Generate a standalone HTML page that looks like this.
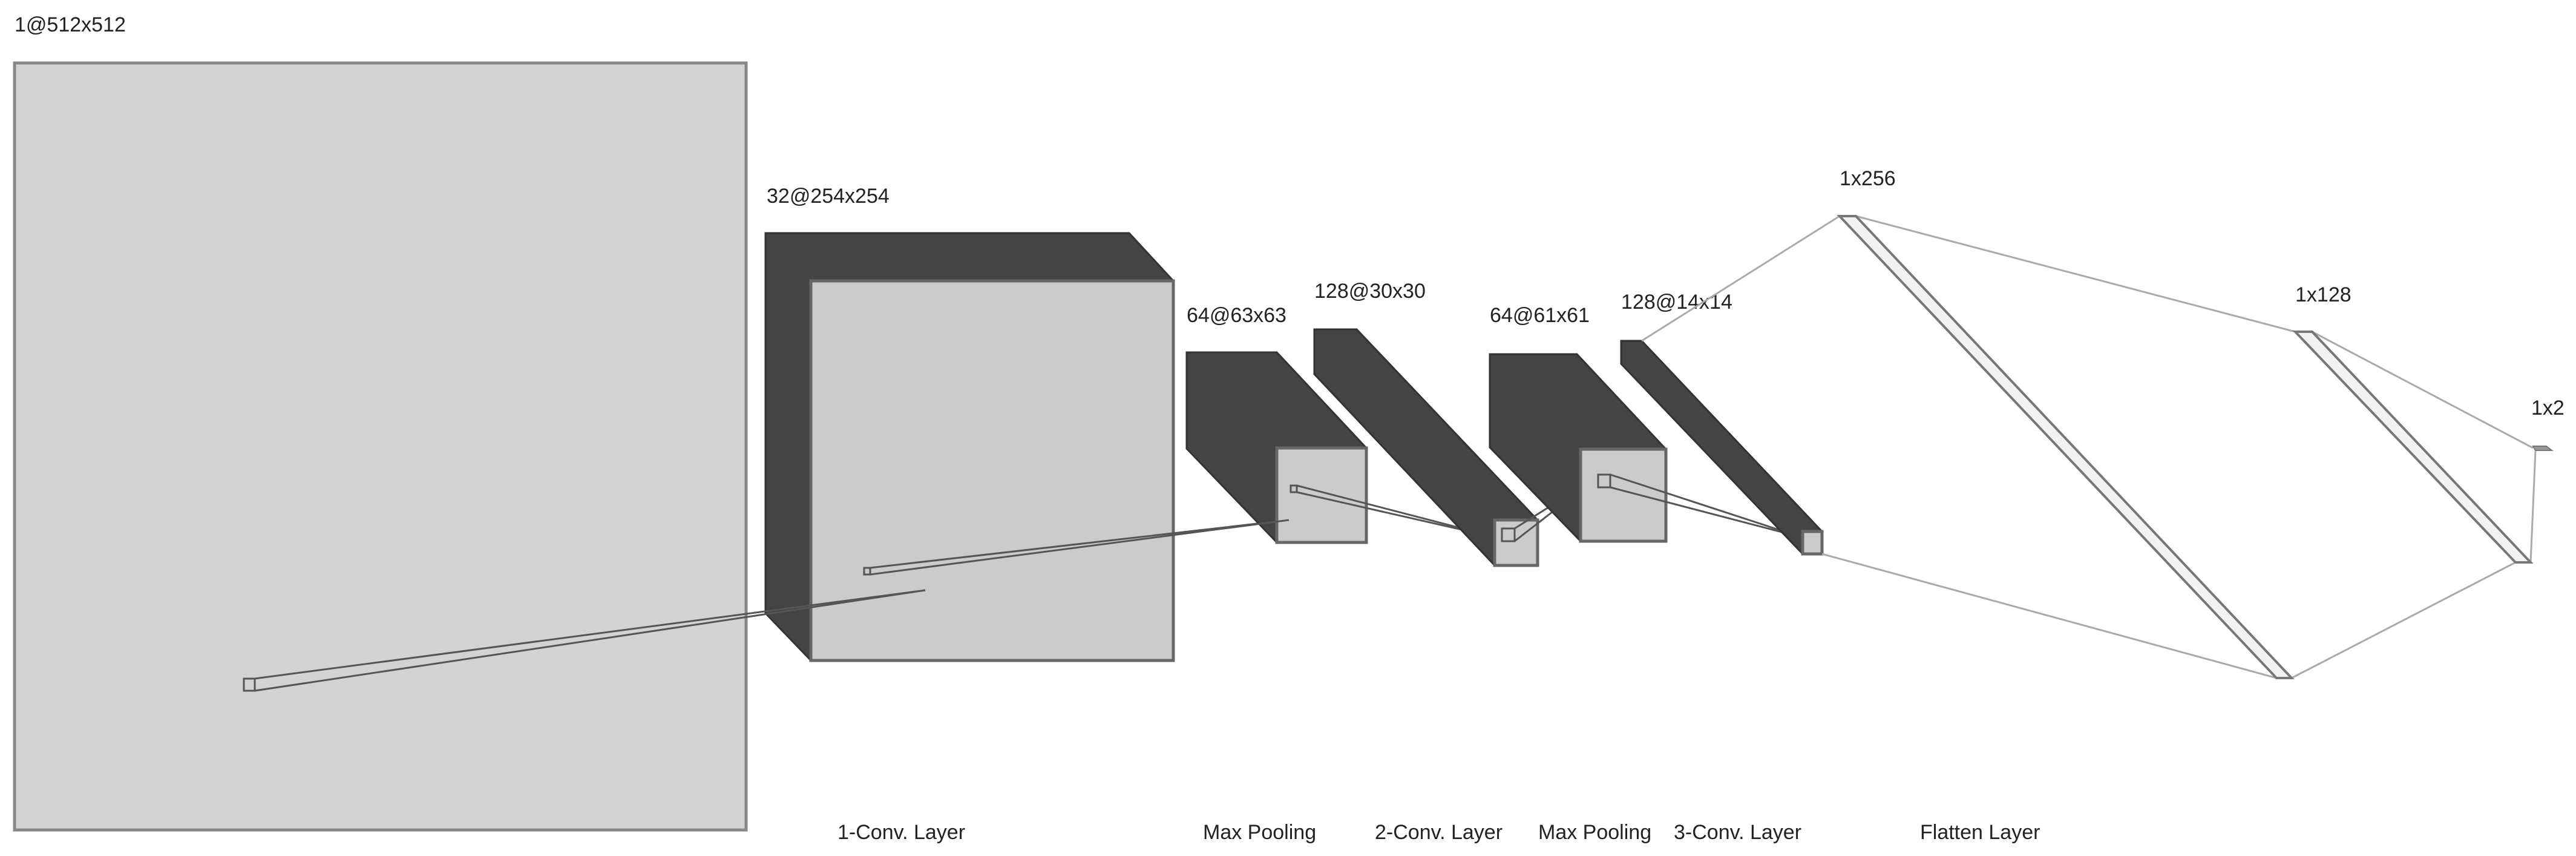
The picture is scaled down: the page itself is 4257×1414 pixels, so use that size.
<!DOCTYPE html>
<html><head><meta charset="utf-8"><style>
html,body{margin:0;padding:0;background:#fff;}
svg{display:block;}
text{font-family:"Liberation Sans",sans-serif;font-size:34px;fill:#222;}
</style></head><body>
<svg width="4257" height="1414" viewBox="0 0 4257 1414" xmlns="http://www.w3.org/2000/svg">
<!-- input -->
<rect x="24" y="104" width="1209" height="1267" fill="#d3d3d3" stroke="#888" stroke-width="5"/>
<text x="24" y="52">1@512x512</text>
<rect x="403" y="1121" width="18" height="20" fill="none" stroke="#555" stroke-width="3"/>

<!-- conv1 -->
<polygon points="1265,385 1866,385 1939,464 1939,1091 1340,1091 1265,1013" fill="#444" stroke="#333" stroke-width="3"/>
<rect x="1340" y="464" width="599" height="627" fill="#cbcbcb" stroke="#666" stroke-width="5"/>
<text x="1267" y="335">32@254x254</text>
<line x1="421" y1="1121" x2="1529" y2="975" stroke="#555" stroke-width="3"/>
<line x1="421" y1="1141" x2="1529" y2="975" stroke="#555" stroke-width="3"/>
<rect x="1428" y="938" width="10" height="11" fill="none" stroke="#555" stroke-width="3"/>
<line x1="1438" y1="938" x2="2130" y2="859" stroke="#555" stroke-width="3"/>
<line x1="1438" y1="949" x2="2130" y2="859" stroke="#555" stroke-width="3"/>

<!-- pool1 -->
<polygon points="1961,582 2110,582 2258,740 2258,896 2110,896 1961,741" fill="#444" stroke="#333" stroke-width="3"/>
<rect x="2110" y="740" width="148" height="156" fill="#cbcbcb" stroke="#666" stroke-width="5"/>
<text x="1961" y="532">64@63x63</text>
<line x1="2030" y1="872" x2="2130" y2="859" stroke="#555" stroke-width="3"/>
<rect x="2133" y="802" width="10" height="11" fill="none" stroke="#555" stroke-width="3"/>
<line x1="2143" y1="802" x2="2482" y2="890" stroke="#555" stroke-width="3"/>
<line x1="2143" y1="813" x2="2482" y2="890" stroke="#555" stroke-width="3"/>

<!-- conv2 -->
<polygon points="2172,544 2242,544 2541,859 2541,934 2470,934 2172,618" fill="#444" stroke="#333" stroke-width="3"/>
<rect x="2470" y="859" width="71" height="75" fill="#cbcbcb" stroke="#666" stroke-width="5"/>
<text x="2172" y="492">128@30x30</text>
<rect x="2482" y="873" width="21" height="21" fill="none" stroke="#555" stroke-width="3"/>
<line x1="2503" y1="873" x2="2641" y2="787" stroke="#555" stroke-width="3"/>
<line x1="2503" y1="894" x2="2641" y2="787" stroke="#555" stroke-width="3"/>

<!-- pool2 -->
<polygon points="2462,585 2606,585 2753,742 2753,894 2612,894 2462,739" fill="#444" stroke="#333" stroke-width="3"/>
<rect x="2612" y="742" width="141" height="152" fill="#cbcbcb" stroke="#666" stroke-width="5"/>
<text x="2462" y="532">64@61x61</text>
<rect x="2641" y="784" width="20" height="21" fill="none" stroke="#555" stroke-width="3"/>
<line x1="2661" y1="784" x2="2979" y2="888" stroke="#555" stroke-width="3"/>
<line x1="2661" y1="805" x2="2979" y2="888" stroke="#555" stroke-width="3"/>

<!-- conv3 -->
<polygon points="2679,563 2713,563 3011,878 3011,915 2979,915 2679,601" fill="#444" stroke="#333" stroke-width="3"/>
<rect x="2979" y="878" width="32" height="37" fill="#cbcbcb" stroke="#666" stroke-width="5"/>
<text x="2679" y="510">128@14x14</text>

<!-- dense connections -->
<g stroke="#aaa" stroke-width="3" fill="none">
<line x1="2713" y1="563" x2="3040" y2="357"/>
<line x1="3011" y1="915" x2="3762" y2="1120"/>
<line x1="3067" y1="357" x2="3793" y2="548"/>
<line x1="3787" y1="1120" x2="4157" y2="929"/>
<line x1="3821" y1="548" x2="4186" y2="740"/>
<line x1="4182" y1="929" x2="4190" y2="745"/>
</g>
<polygon points="3040,357 3067,357 3787,1120 3762,1120" fill="#f2f2f2" stroke="#777" stroke-width="4"/>
<text x="3040" y="306">1x256</text>
<polygon points="3793,548 3821,548 4182,929 4157,929" fill="#f2f2f2" stroke="#777" stroke-width="4"/>
<text x="3793" y="498">1x128</text>
<polygon points="4186,737 4208,737 4217,744 4190,744" fill="#999" stroke="#777" stroke-width="2"/>
<text x="4183" y="685">1x2</text>

<text x="1384" y="1386">1-Conv. Layer</text>
<text x="1988" y="1386">Max Pooling</text>
<text x="2272" y="1386">2-Conv. Layer</text>
<text x="2542" y="1386">Max Pooling</text>
<text x="2766" y="1386">3-Conv. Layer</text>
<text x="3173" y="1386">Flatten Layer</text>
</svg>
</body></html>
